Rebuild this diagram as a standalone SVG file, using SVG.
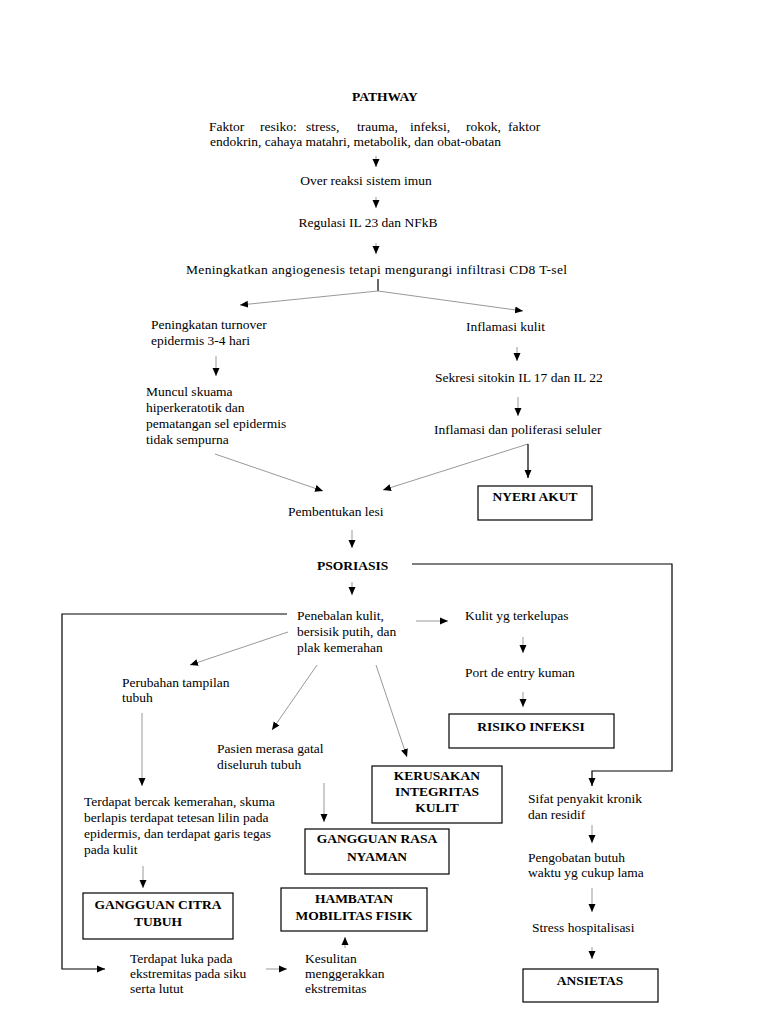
<svg xmlns="http://www.w3.org/2000/svg" width="768" height="1024" viewBox="0 0 768 1024">
<style>
text{font-family:"Liberation Serif","Times New Roman",serif;font-size:13.5px;fill:#000}
.b{font-weight:bold}
.m{text-anchor:middle}
.box{fill:#fff;stroke:#000;stroke-width:1.2}
.c{fill:none;stroke:#999;stroke-width:1;marker-end:url(#ah)}
.k{fill:none;stroke:#000;stroke-width:1.2}
.ka{fill:none;stroke:#000;stroke-width:1.2;marker-end:url(#ah)}
</style>
<defs>
<marker id="ah" markerWidth="8" markerHeight="8" refX="8" refY="4" orient="auto" markerUnits="userSpaceOnUse"><path d="M0,0.5 L8,4 L0,7.5 z" fill="#000"/></marker>
</defs>
<rect width="768" height="1024" fill="#fff"/>
<g id="connectors">
<line class="c" x1="376" y1="156" x2="376" y2="167"/>
<line class="c" x1="376" y1="197" x2="376" y2="208"/>
<line class="c" x1="376" y1="243" x2="376" y2="254"/>
<line class="k" x1="378" y1="279" x2="378" y2="291"/>
<line class="c" x1="378" y1="291" x2="240" y2="305"/>
<line class="c" x1="378" y1="291" x2="523" y2="311"/>
<line class="c" x1="216" y1="356" x2="216" y2="376"/>
<line class="c" x1="517" y1="347" x2="517" y2="361"/>
<line class="c" x1="518" y1="397" x2="518" y2="416"/>
<line class="c" x1="215" y1="454" x2="323" y2="491"/>
<line class="c" x1="528" y1="444" x2="383" y2="490"/>
<line class="ka" x1="528" y1="444" x2="528" y2="478"/>
<line class="c" x1="352" y1="530" x2="352" y2="548"/>
<line class="c" x1="352" y1="582" x2="352" y2="595"/>
<polyline class="ka" points="412,564 672,564 672,771 592,771 592,786"/>
<polyline class="ka" points="287,614 62,614 62,969 105,969"/>
<line class="c" x1="416" y1="621" x2="448" y2="621"/>
<line class="c" x1="523" y1="637" x2="523" y2="653"/>
<line class="c" x1="523" y1="692" x2="523" y2="707"/>
<line class="c" x1="288" y1="632" x2="190" y2="665"/>
<line class="c" x1="317" y1="665" x2="272" y2="730"/>
<line class="c" x1="376" y1="665" x2="407" y2="757"/>
<line class="c" x1="142" y1="713" x2="142" y2="786"/>
<line class="c" x1="143" y1="866" x2="143" y2="888"/>
<line class="c" x1="324" y1="783" x2="324" y2="822"/>
<line class="c" x1="345" y1="948" x2="345" y2="937"/>
<line class="c" x1="266" y1="969" x2="287" y2="969"/>
<line class="c" x1="592" y1="825" x2="592" y2="843"/>
<line class="c" x1="592" y1="888" x2="592" y2="912"/>
<line class="c" x1="592" y1="947" x2="592" y2="959"/>
</g>
<g id="title"><text class="b m" x="385" y="101">PATHWAY</text></g>
<g id="faktor">
<text x="209" y="131">Faktor</text><text x="260" y="131">resiko:</text><text x="306" y="131">stress,</text><text x="357" y="131">trauma,</text><text x="410" y="131">infeksi,</text><text x="466" y="131">rokok,</text><text x="508" y="131">faktor</text>
<text x="210" y="146">endokrin, cahaya matahri, metabolik, dan obat-obatan</text>
</g>
<g id="over"><text class="m" x="366" y="185">Over reaksi sistem imun</text></g>
<g id="regulasi"><text class="m" x="368" y="227">Regulasi IL 23 dan NFkB</text></g>
<g id="meningkatkan"><text x="186" y="274" textLength="381" lengthAdjust="spacing">Meningkatkan angiogenesis tetapi mengurangi infiltrasi CD8 T-sel</text></g>
<g id="peningkatan"><text x="151" y="329">Peningkatan turnover</text><text x="151" y="345">epidermis 3-4 hari</text></g>
<g id="muncul"><text x="146" y="396">Muncul skuama</text><text x="146" y="412">hiperkeratotik dan</text><text x="146" y="428">pematangan sel epidermis</text><text x="146" y="444">tidak sempurna</text></g>
<g id="inflamasi-kulit"><text x="466" y="331">Inflamasi kulit</text></g>
<g id="sekresi"><text x="435" y="382">Sekresi sitokin IL 17 dan IL 22</text></g>
<g id="inflamasi-poliferasi"><text x="434" y="434">Inflamasi dan poliferasi seluler</text></g>
<g id="nyeri"><rect class="box" x="478" y="486" width="114" height="34"/><text class="b m" x="535" y="501">NYERI AKUT</text></g>
<g id="pembentukan"><text x="288" y="516">Pembentukan lesi</text></g>
<g id="psoriasis"><text class="b" x="317" y="570">PSORIASIS</text></g>
<g id="penebalan"><text x="297" y="620">Penebalan kulit,</text><text x="297" y="636">bersisik putih, dan</text><text x="297" y="652">plak kemerahan</text></g>
<g id="kulit-terkelupas"><text x="465" y="620">Kulit yg terkelupas</text></g>
<g id="port"><text x="465" y="677">Port de entry kuman</text></g>
<g id="risiko"><rect class="box" x="449" y="714" width="165" height="34"/><text class="b m" x="531" y="731">RISIKO INFEKSI</text></g>
<g id="perubahan"><text x="122" y="687">Perubahan tampilan</text><text x="122" y="702">tubuh</text></g>
<g id="pasien"><text x="217" y="753">Pasien merasa gatal</text><text x="217" y="769">diseluruh tubuh</text></g>
<g id="kerusakan"><rect class="box" x="372" y="766" width="130" height="57"/><text class="b m" x="437" y="780">KERUSAKAN</text><text class="b m" x="437" y="796">INTEGRITAS</text><text class="b m" x="437" y="812">KULIT</text></g>
<g id="bercak"><text x="84" y="806">Terdapat bercak kemerahan, skuma</text><text x="84" y="822">berlapis terdapat tetesan lilin pada</text><text x="84" y="838">epidermis, dan terdapat garis tegas</text><text x="84" y="854">pada kulit</text></g>
<g id="citra"><rect class="box" x="83" y="893" width="150" height="46"/><text class="b m" x="158" y="909">GANGGUAN CITRA</text><text class="b m" x="158" y="926">TUBUH</text></g>
<g id="rasa-nyaman"><rect class="box" x="305" y="829" width="144" height="45"/><text class="b m" x="377" y="843">GANGGUAN RASA</text><text class="b m" x="377" y="861">NYAMAN</text></g>
<g id="hambatan"><rect class="box" x="281" y="888" width="146" height="43"/><text class="b m" x="354" y="903">HAMBATAN</text><text class="b m" x="354" y="920">MOBILITAS FISIK</text></g>
<g id="luka"><text x="130" y="963">Terdapat luka pada</text><text x="130" y="978">ekstremitas pada siku</text><text x="130" y="993">serta lutut</text></g>
<g id="kesulitan"><text x="305" y="963">Kesulitan</text><text x="305" y="978">menggerakkan</text><text x="305" y="993">ekstremitas</text></g>
<g id="sifat"><text x="528" y="803">Sifat penyakit kronik</text><text x="528" y="819">dan residif</text></g>
<g id="pengobatan"><text x="528" y="862">Pengobatan butuh</text><text x="528" y="877">waktu yg cukup lama</text></g>
<g id="stress"><text x="532" y="932">Stress hospitalisasi</text></g>
<g id="ansietas"><rect class="box" x="523" y="969" width="135" height="33"/><text class="b m" x="590" y="985">ANSIETAS</text></g>
</svg>
